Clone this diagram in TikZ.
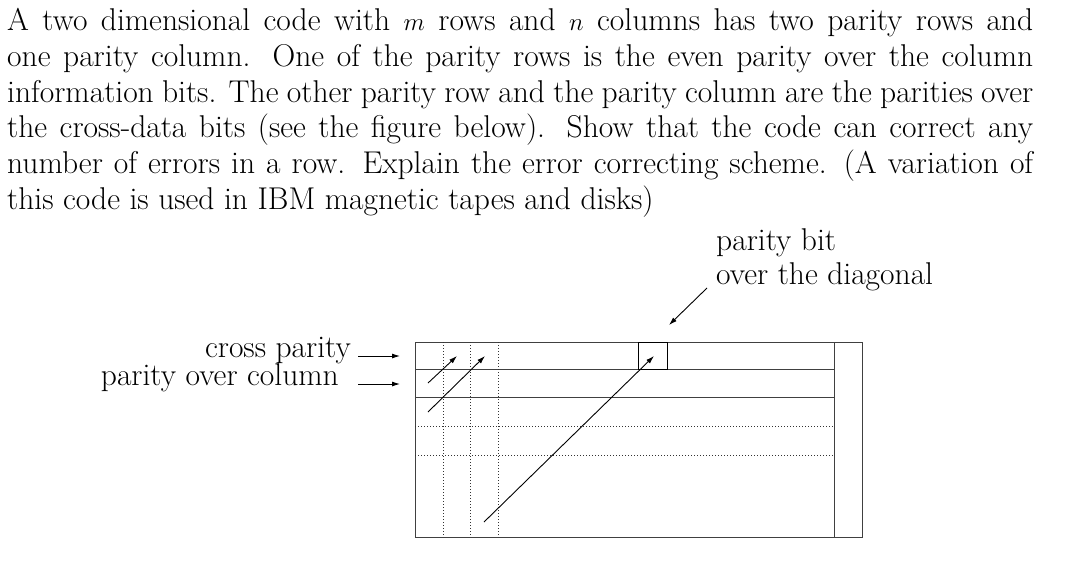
\documentclass[tikz,border=0pt]{standalone}
\usetikzlibrary{arrows.meta}
\begin{document}
\begin{tikzpicture}[x=1pt,y=-1pt,
  txt/.style={font=\fontsize{31.5}{35.8}\selectfont, inner sep=0pt},
  grid/.style={line width=1pt, draw=black!75},
  dot/.style={line width=1pt, dotted, draw=black!80},
  arr/.style={-{Latex[length=8pt,width=5pt]}, line width=0.9pt}]
\useasboundingbox (0,0) rectangle (1084,574);
\node[txt, anchor=north west, text width=1026pt, align=justify] (para) at (7,8)
{A two dimensional code with $m$ rows and $n$ columns has two parity rows and one parity column. One of the parity rows is the even parity over the column information bits. The other parity row and the parity column are the parities over the cross-data bits (see the figure below). Show that the code can correct any number of errors in a row. Explain the error correcting scheme. (A variation of this code is used in IBM magnetic tapes and disks)};
% grid
\draw[grid] (415,342) rectangle (862,537);
\draw[grid] (834,342) -- (834,537);
\draw[grid] (415,369) -- (834,369);
\draw[grid] (415,397) -- (834,397);
\draw[dot] (415,426) -- (834,426);
\draw[dot] (415,455) -- (834,455);
\foreach \x in {443,470,498} \draw[dot] (\x,342) -- (\x,537);
\node[draw, line width=0.8pt, minimum width=29pt, minimum height=27pt, inner sep=0pt, anchor=north west] (box) at (638,342) {};
% diagonal arrows
\coordinate (a1) at (428,383); \coordinate (b1) at (457,356);
\coordinate (a2) at (428,412); \coordinate (b2) at (485,356);
\coordinate (a3) at (484,522); \coordinate (b3) at (654,356);
\draw[arr] (a1) -- (b1);
\draw[arr] (a2) -- (b2);
\draw[arr] (a3) -- (b3);
% labels
\node[txt, anchor=base east] (cp) at (351,357) {cross parity};
\node[txt, anchor=base east] (pc) at (339,385) {parity over column};
\coordinate (c1) at (358,356); \coordinate (r1) at (400,356);
\coordinate (c2) at (358,384); \coordinate (r2) at (400,384);
\draw[arr] (c1) -- (r1);
\draw[arr] (c2) -- (r2);
\node[txt, anchor=base west] (pb) at (716,250) {parity bit};
\node[txt, anchor=base west] (od) at (716,284) {over the diagonal};
\coordinate (d0) at (707,288); \coordinate (d1) at (669,325);
\draw[arr] (d0) -- (d1);
\end{tikzpicture}
\end{document}
